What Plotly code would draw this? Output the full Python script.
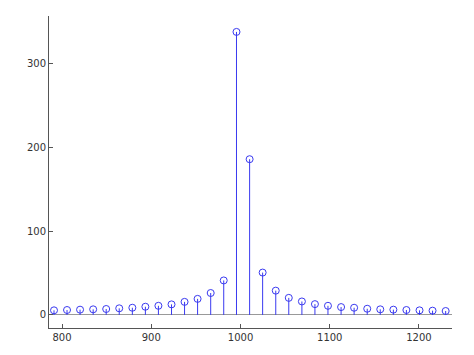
import plotly.graph_objects as go

x_vals = [791, 805.6, 820.2, 834.9, 849.5, 864.1, 878.8, 893.4, 908.0, 922.7, 937.3, 951.9, 966.6, 981.2,
          995.5, 1010.2, 1024.8, 1039.5, 1054.1, 1068.8, 1083.4, 1098.0, 1112.7, 1127.3, 1142.0, 1156.6,
          1171.3, 1185.9, 1200.6, 1215.2, 1229.9]
y_vals = [5.5, 5.9, 6.3, 6.7, 7.1, 7.9, 8.6, 9.8, 10.9, 12.6, 15.6, 19.2, 26.2, 41.2,
          338, 186, 50.6, 29.0, 20.4, 16.1, 12.9, 10.9, 9.4, 8.6, 7.4, 6.7, 6.3, 5.9, 5.5, 5.1, 4.7]
x_ticks = [800, 900, 1000, 1100, 1200]
y_ticks = [0, 100, 200, 300]

blue = "#3a3af0"

fig = go.Figure()
fig.add_trace(go.Scatter(
    x=x_vals, y=y_vals, mode="markers",
    marker=dict(symbol="circle-open", size=7, color=blue, line=dict(width=1, color=blue)),
    error_y=dict(type="data", symmetric=False, array=[0] * len(y_vals), arrayminus=y_vals,
                 color=blue, thickness=1, width=0),
    showlegend=False,
))

fig.update_layout(
    width=474, height=355,
    margin=dict(l=49, r=22, t=16, b=23),
    paper_bgcolor="white", plot_bgcolor="white",
    font=dict(family="DejaVu Sans, Verdana, sans-serif", size=10, color="#333333"),
    xaxis=dict(range=[785.4, 1237], tickvals=x_ticks, showgrid=False, zeroline=False,
               showline=True, linecolor="#555555", linewidth=1,
               ticks="inside", ticklen=4, tickcolor="#555555", mirror=False),
    yaxis=dict(range=[-15.6, 357], tickvals=y_ticks, showgrid=False,
               zeroline=True, zerolinecolor="#999999", zerolinewidth=1,
               showline=True, linecolor="#555555", linewidth=1,
               ticks="inside", ticklen=4, tickcolor="#555555", mirror=False),
)

fig.write_html("out.html")
